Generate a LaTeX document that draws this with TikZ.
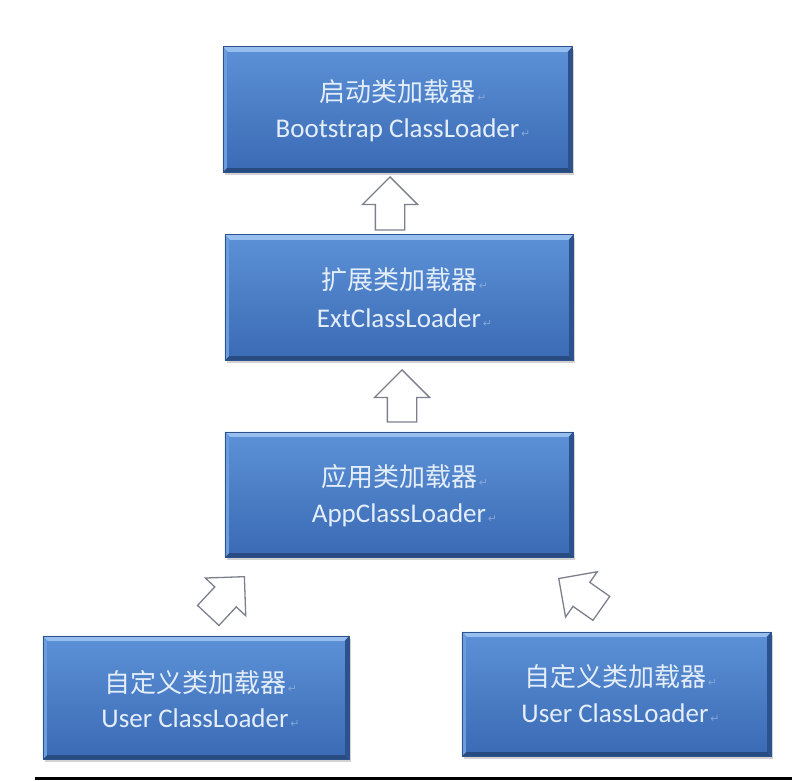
\documentclass[tikz,border=0pt]{standalone}
\usepackage{fontspec}
\setmainfont{Carlito}
\newfontfamily\cjk{Noto Sans CJK SC}
\newfontfamily\dv{DejaVu Sans}
\usetikzlibrary{shapes.arrows,calc,shadows}
\definecolor{boxtop}{RGB}{92,145,215}
\definecolor{boxbot}{RGB}{58,106,180}
\definecolor{boxedge}{RGB}{45,82,140}
\definecolor{bevlight}{RGB}{150,190,238}
\definecolor{bevdark}{RGB}{40,75,130}
\definecolor{txt}{RGB}{228,238,250}
\definecolor{pmark}{RGB}{130,165,215}
\definecolor{arrowgray}{RGB}{125,128,140}
\definecolor{baseline}{RGB}{55,55,58}
\newcommand{\parmark}{\rlap{\dv\fontsize{11}{11}\selectfont\color{pmark}\,↵}}
\newcommand{\bevel}[1]{%
 \fill[bevlight] (#1.north west) -- (#1.north east) -- ($(#1.north east)+(-5,-5)$) -- ($(#1.north west)+(5,-5)$) -- cycle;
 \fill[bevdark] (#1.south west) -- (#1.south east) -- ($(#1.south east)+(-4,4)$) -- ($(#1.south west)+(4,4)$) -- cycle;
 \fill[bevdark!80!boxbot] (#1.north east) -- (#1.south east) -- ($(#1.south east)+(-4,4)$) -- ($(#1.north east)+(-4,-5)$) -- cycle;
 \fill[boxtop!75!bevlight] (#1.north west) -- (#1.south west) -- ($(#1.south west)+(4,4)$) -- ($(#1.north west)+(4,-5)$) -- cycle;
 \draw[boxedge,line width=0.6pt] (#1.north west) rectangle (#1.south east);
}
\tikzset{
 loader/.style={rectangle, inner sep=0pt, top color=boxtop, bottom color=boxbot,
   drop shadow={shadow xshift=2pt, shadow yshift=-3pt, opacity=0.35}},
 cjktext/.style={inner sep=0pt, text=txt, font=\cjk\fontsize{26}{26}\selectfont},
 lattext/.style={inner sep=0pt, text=txt, font=\fontsize{27}{27}\selectfont},
 hollow/.style={single arrow, draw=arrowgray, fill=white, line width=1.3pt,
   minimum height=53pt, inner xsep=0pt, inner ysep=14pt,
   single arrow head extend=13pt, single arrow head indent=0pt, anchor=tip},
}
\begin{document}
\begin{tikzpicture}[x=1pt,y=1pt]
\fill[white] (0,0) rectangle (792,780);
\useasboundingbox (0,0) rectangle (792,780);

% boxes
\node[loader, minimum width=349pt, minimum height=125pt] (b1) at (397.5,670.5) {};
\bevel{b1}
\node[loader, minimum width=348pt, minimum height=125pt] (b2) at (399,482.5) {};
\bevel{b2}
\node[loader, minimum width=348pt, minimum height=125pt] (b3) at (399,285.5) {};
\bevel{b3}
\node[loader, minimum width=306pt, minimum height=123pt] (b4) at (196,82.5) {};
\bevel{b4}
\node[loader, minimum width=309pt, minimum height=124pt] (b5) at (616.5,86) {};
\bevel{b5}

% texts
\node[cjktext] (t1a) at (397.5,688) {启动类加载器\parmark};
\node[lattext] (t1b) at (397.5,650) {Bootstrap ClassLoader\parmark};
\node[cjktext] (t2a) at (399,500) {扩展类加载器\parmark};
\node[lattext] (t2b) at (399,462) {ExtClassLoader\parmark};
\node[cjktext] (t3a) at (399,303) {应用类加载器\parmark};
\node[lattext] (t3b) at (399,265) {AppClassLoader\parmark};
\node[cjktext] (t4a) at (195,97) {自定义类加载器\parmark};
\node[lattext] (t4b) at (195,62) {User ClassLoader\parmark};
\node[cjktext] (t5a) at (615,103) {自定义类加载器\parmark};
\node[lattext] (t5b) at (615,67) {User ClassLoader\parmark};

% hollow arrows
\node[hollow, rotate=90] (a1) at (390,604) {};
\node[hollow, rotate=90, minimum height=52pt] (a2) at (402,411) {};
\node[hollow, rotate=47, minimum height=53pt] (a3) at (245,204) {};
\node[hollow, rotate=145, minimum height=52pt] (a4) at (558,202) {};

% bottom rule
\coordinate (r1) at (35,2);
\coordinate (r2) at (792,2);
\draw[baseline, line width=3pt] (r1) -- (r2);
\end{tikzpicture}
\end{document}
